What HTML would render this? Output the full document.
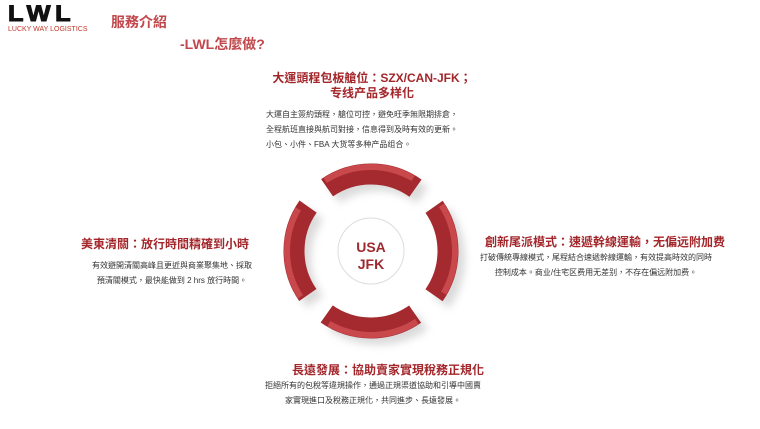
<!DOCTYPE html>
<html><head><meta charset="utf-8"><style>
body{margin:0;width:760px;height:429px;background:#fff;position:relative;overflow:hidden;font-family:"Liberation Sans","Noto Sans CJK TC",sans-serif}
.a{position:absolute;white-space:nowrap}
.h{color:#a3262b;font-weight:bold;font-size:12px}
.t{color:#333;font-size:8px;line-height:15px}
</style></head><body>
<div class="a" style="left:8px;top:3px;font:bold 22px/22px 'Liberation Sans',sans-serif;color:#111;letter-spacing:4px;-webkit-text-stroke:1px #111;transform:scaleX(1.15);transform-origin:left">LWL</div>
<div class="a" style="left:8px;top:26px;font-size:7px;color:#c0392b">LUCKY WAY LOGISTICS</div>
<div class="a" style="left:111px;top:12px;font-size:14px;font-weight:bold;color:#c0474b">服務介紹</div>
<div class="a" style="left:180px;top:34px;font-size:14px;font-weight:bold;color:#c0474b">-LWL怎麼做?</div>

<div class="a h" style="left:272px;top:71px;text-align:center;width:200px;line-height:15px">大運頭程包板艙位：SZX/CAN-JFK；<br>专线产品多样化</div>
<div class="a t" style="left:266px;top:107px">大運自主簽約頭程，艙位可控，避免旺季無限期排倉，<br>全程航班直接與航司對接，信息得到及時有效的更新。<br>小包、小件、FBA 大货等多种产品组合。</div>

<div class="a h" style="left:81px;top:235px">美東清關：放行時間精確到小時</div>
<div class="a t" style="left:92px;top:258px;text-align:center">有效避開清關高峰且更近與商業聚集地、採取<br>預清關模式，最快能做到 2 hrs 放行時間。</div>

<div class="a h" style="left:485px;top:233px">創新尾派模式：速遞幹線運輸，无偏远附加费</div>
<div class="a t" style="left:480px;top:250px;text-align:center">打破傳統專線模式，尾程結合速遞幹線運輸，有效提高時效的同時<br>控制成本。商业/住宅区费用无差别，不存在偏远附加费。</div>

<div class="a h" style="left:292px;top:361px">長遠發展：協助賣家實現稅務正規化</div>
<div class="a t" style="left:265px;top:378px;text-align:center">拒絕所有的包稅等違規操作，通過正規渠道協助和引導中國賣<br>家實現進口及稅務正規化，共同進步、長遠發展。</div>

<svg class="a" style="left:0;top:0" width="760" height="429">
<defs>
<filter id="s" x="-30%" y="-30%" width="160%" height="160%"><feGaussianBlur stdDeviation="4"/></filter>
</defs>
<circle cx="378" cy="258" r="77" fill="none" stroke="#999" stroke-width="20" opacity=".35" stroke-dasharray="94.1 26.9" transform="rotate(-35 378 258)" filter="url(#s)"/>
<circle cx="371" cy="251" r="77" fill="none" stroke="#a42a2f" stroke-width="21" stroke-dasharray="94.1 26.9" transform="rotate(-35 371 251)"/>
<circle cx="371" cy="251" r="84" fill="none" stroke="#c8484c" stroke-width="6" stroke-dasharray="92.5 39.4" transform="rotate(-33 371 251)"/>
<circle cx="371" cy="251" r="33" fill="#fff" stroke="#ddd" stroke-width="1"/>
<text x="371" y="252" text-anchor="middle" font-family="Liberation Sans,sans-serif" font-weight="bold" font-size="14" fill="#9e2a2f">USA</text>
<text x="371" y="269" text-anchor="middle" font-family="Liberation Sans,sans-serif" font-weight="bold" font-size="14" fill="#9e2a2f">JFK</text>
</svg>
</body></html>
